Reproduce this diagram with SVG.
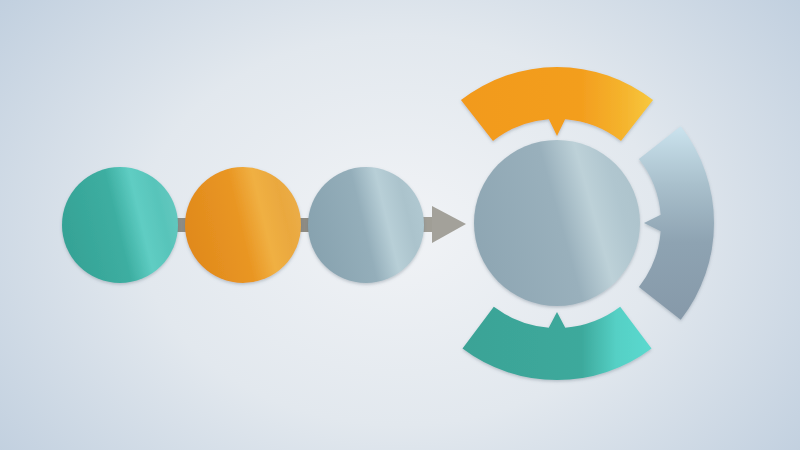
<svg xmlns="http://www.w3.org/2000/svg" width="800" height="450" viewBox="0 0 800 450">
  <defs>
    <radialGradient id="bg" cx="400" cy="230" r="520" gradientUnits="userSpaceOnUse" gradientTransform="translate(400 230) scale(1 0.75) translate(-400 -230)">
      <stop offset="0" stop-color="#F1F3F6"/>
      <stop offset="0.5" stop-color="#E2E8EE"/>
      <stop offset="1" stop-color="#BFCEDE"/>
    </radialGradient>
    <linearGradient id="gTeal" x1="0" y1="0.62" x2="1" y2="0.38">
      <stop offset="0" stop-color="#35A295"/>
      <stop offset="0.48" stop-color="#3DAEA1"/>
      <stop offset="0.68" stop-color="#5FCDC3"/>
      <stop offset="0.86" stop-color="#58C4BA"/>
      <stop offset="1" stop-color="#62C8BF"/>
    </linearGradient>
    <linearGradient id="gOrange" x1="0" y1="0.62" x2="1" y2="0.38">
      <stop offset="0" stop-color="#E0891C"/>
      <stop offset="0.48" stop-color="#E99623"/>
      <stop offset="0.68" stop-color="#F0B043"/>
      <stop offset="0.86" stop-color="#EAA83E"/>
      <stop offset="1" stop-color="#EBAD48"/>
    </linearGradient>
    <linearGradient id="gGray" x1="0" y1="0.62" x2="1" y2="0.38">
      <stop offset="0" stop-color="#87A2AF"/>
      <stop offset="0.48" stop-color="#94AEBA"/>
      <stop offset="0.68" stop-color="#B8CFD7"/>
      <stop offset="0.86" stop-color="#ABC3CC"/>
      <stop offset="1" stop-color="#B0C8D1"/>
    </linearGradient>
    <linearGradient id="gBig" x1="0" y1="0.64" x2="1" y2="0.36">
      <stop offset="0" stop-color="#8EA6B3"/>
      <stop offset="0.52" stop-color="#99B0BC"/>
      <stop offset="0.72" stop-color="#BDD1D8"/>
      <stop offset="0.88" stop-color="#B0C6CF"/>
      <stop offset="1" stop-color="#ADC3CC"/>
    </linearGradient>
    <linearGradient id="gArcO" x1="460" y1="0" x2="655" y2="0" gradientUnits="userSpaceOnUse">
      <stop offset="0" stop-color="#F29A1C"/>
      <stop offset="0.62" stop-color="#F39E1E"/>
      <stop offset="0.85" stop-color="#F5B52E"/>
      <stop offset="1" stop-color="#F8CA40"/>
    </linearGradient>
    <linearGradient id="gArcT" x1="462" y1="0" x2="655" y2="0" gradientUnits="userSpaceOnUse">
      <stop offset="0" stop-color="#3AA396"/>
      <stop offset="0.62" stop-color="#3DA99C"/>
      <stop offset="0.8" stop-color="#55D0C5"/>
      <stop offset="1" stop-color="#5CDAD0"/>
    </linearGradient>
    <linearGradient id="gArcG" x1="0" y1="126" x2="0" y2="320" gradientUnits="userSpaceOnUse">
      <stop offset="0" stop-color="#CBE3EE"/>
      <stop offset="0.3" stop-color="#A9C0CC"/>
      <stop offset="0.6" stop-color="#8EA3B2"/>
      <stop offset="1" stop-color="#8699A9"/>
    </linearGradient>
    <filter id="sh" x="-20%" y="-20%" width="140%" height="140%">
      <feDropShadow dx="0" dy="1.5" stdDeviation="1.5" flood-color="#5A6B7A" flood-opacity="0.35"/>
    </filter>
  </defs>
  <style>
    .conn { fill: #8E8C84; }
    .node { filter: url(#sh); }
  </style>

  <rect x="0" y="0" width="800" height="450" fill="url(#bg)"/>

  <g id="connectors">
    <rect class="conn" x="176" y="218" width="12" height="14"/>
    <rect class="conn" x="299" y="218" width="12" height="14"/>
    <rect x="422" y="217" width="12" height="15" fill="#A09E96"/>
    <polygon points="432,206 466,224 432,243" fill="#A3A19A"/>
  </g>

  <g id="circle-teal" class="node">
    <circle cx="120" cy="225" r="58" fill="url(#gTeal)"/>
  </g>
  <g id="circle-orange" class="node">
    <circle cx="243" cy="225" r="58" fill="url(#gOrange)"/>
  </g>
  <g id="circle-gray" class="node">
    <circle cx="366" cy="225" r="58" fill="url(#gGray)"/>
  </g>

  <g id="hub" class="node">
    <circle cx="557" cy="223" r="83" fill="url(#gBig)"/>
  </g>

  <g id="arc-top" class="node">
    <path d="M460.95,100.07 A156,156 0 0 1 653.05,100.07 L621.03,141.05 A104,104 0 0 0 565.16,119.32 L557,136 L548.84,119.32 A104,104 0 0 0 492.97,141.05 Z" fill="url(#gArcO)"/>
  </g>
  <g id="arc-right" class="node">
    <path d="M680.72,126.34 A157,157 0 0 1 680.72,319.66 L638.95,287.03 A104,104 0 0 0 660.68,231.16 L644,223 L660.68,214.84 A104,104 0 0 0 638.95,158.97 Z" fill="url(#gArcG)"/>
  </g>
  <g id="arc-bottom" class="node">
    <path d="M462.52,348.38 A157,157 0 0 0 651.48,348.38 L620.19,306.85 A105,105 0 0 1 565.24,327.68 L557,312 L548.76,327.68 A105,105 0 0 1 493.81,306.85 Z" fill="url(#gArcT)"/>
  </g>
</svg>
